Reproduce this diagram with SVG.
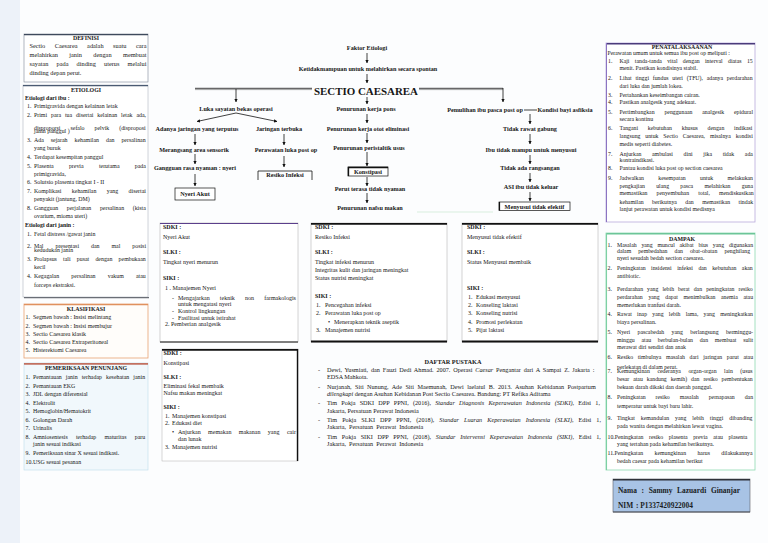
<svg xmlns="http://www.w3.org/2000/svg" width="768" height="543" viewBox="0 0 768 543">
<defs>
<marker id="ah" viewBox="0 0 6 6" refX="5.5" refY="3" markerWidth="3.4" markerHeight="3.4" orient="auto" markerUnits="userSpaceOnUse"><path d="M0,0 L6,3 L0,6 z" fill="#111"/></marker>
<style>
text { font-family: "Liberation Serif", "Times New Roman", serif; fill: #161616; font-size: 6px; }
.b { font-weight: bold; }
.c { text-anchor: middle; }
.i { font-style: italic; }
.f { font-size: 6.2px; font-weight: bold; text-anchor: middle; }
.h { font-size: 5.9px; font-weight: bold; text-anchor: middle; }
.r { font-size: 5.8px; }
.d { font-size: 6.2px; }
.e { font-size: 5.9px; }
.k { font-size: 5.9px; }
.df { font-size: 6.3px; }
.nm { font-size: 7.4px; font-weight: bold; fill: #1a1d24; }
.ar { fill: none; stroke: #111; stroke-width: 0.8; marker-end: url(#ah); }
.ln { fill: none; stroke: #111; stroke-width: 0.8; }
.box { fill: #fff; stroke: #111; stroke-width: 0.7; }
</style>
</defs>
<rect x="0" y="0" width="768" height="543" fill="#fcfdfe"/>
<rect x="0" y="0" width="20" height="543" fill="#edf2f9"/>

<!-- LEFT COLUMN -->
<g id="definisi">
<rect x="24" y="34" width="124" height="48" fill="#fff" stroke="#7d8796" stroke-width="0.6"/>
<line x1="24" y1="34.6" x2="148" y2="34.6" stroke="#3e4a5c" stroke-width="1.4"/>
<text class="h" x="86" y="39.8">DEFINISI</text>
<text class="df" x="29.5" y="48" style="word-spacing:8px">Sectio Caesarea adalah suatu cara</text>
<text class="df" x="29.5" y="57" style="word-spacing:9.9px">melahirkan janin dengan membuat</text>
<text class="df" x="29.5" y="66" style="word-spacing:6.6px">sayatan pada dinding uterus melalui</text>
<text class="df" x="29.5" y="75">dinding depan perut.</text>
</g>

<g id="etiologi">
<rect x="23" y="85" width="125" height="212" fill="#fff" stroke="#a0a8b4" stroke-width="0.5"/>
<line x1="23" y1="85.6" x2="148" y2="85.6" stroke="#4a5a72" stroke-width="1.4"/>
<line x1="24" y1="297.6" x2="149" y2="297.6" stroke="#6a6e76" stroke-width="1.3"/>
<text class="h" x="86" y="91.5">ETIOLOGI</text>
<text class="b e" x="25" y="100">Etiologi dari ibu :</text>
<text class="e" x="27" y="107.5">1.</text><text class="e" x="34" y="107.5">Primigravida dengan kelainan letak</text>
<text class="e" x="27" y="117">2.</text><text class="e" x="34" y="117" style="word-spacing:2.4px">Primi para tua disertai kelainan letak ada,</text>
<text class="e" x="34" y="129.5" style="word-spacing:8.5px">disproporsi sefalo pelvik (disproposi</text>
<text class="e" x="34" y="133">janin panggul )</text>
<text class="e" x="27" y="141.5">3.</text><text class="e" x="34" y="141.5" style="word-spacing:5.5px">Ada sejarah kehamilan dan persalinan</text>
<text class="e" x="34" y="149.5">yang buruk</text>
<text class="e" x="27" y="158.5">4.</text><text class="e" x="34" y="158.5">Terdapat kesempitan panggul</text>
<text class="e" x="27" y="167.5">5.</text><text class="e" x="34" y="167.5" style="word-spacing:13.8px">Plasenta previa terutama pada</text>
<text class="e" x="34" y="176">primigravida,</text>
<text class="e" x="27" y="184">6.</text><text class="e" x="34" y="184">Solutsio plasenta tingkat I - II</text>
<text class="e" x="27" y="193">7.</text><text class="e" x="34" y="193" style="word-spacing:8.9px">Komplikasi kehamilan yang disertai</text>
<text class="e" x="34" y="200.5">penyakit (jantung, DM)</text>
<text class="e" x="27" y="210">8.</text><text class="e" x="34" y="210" style="word-spacing:7.1px">Gangguan perjalanan persalinan (kista</text>
<text class="e" x="34" y="217.5">ovarium, mioma uteri)</text>
<text class="b e" x="25" y="227">Etiologi dari janin :</text>
<text class="e" x="27" y="236">1.</text><text class="e" x="34" y="236">Fetal distress /gawat janin</text>
<text class="e" x="27" y="248">2.</text><text class="e" x="34" y="248" style="word-spacing:10.5px">Mal presentasi dan mal posisi</text>
<text class="e" x="34" y="251.5">kedudukan janin</text>
<text class="e" x="27" y="261">3.</text><text class="e" x="34" y="261" style="word-spacing:4.7px">Prolapsus tali pusat dengan pembukaan</text>
<text class="e" x="34" y="269">kecil</text>
<text class="e" x="27" y="278">4.</text><text class="e" x="34" y="278" style="word-spacing:10.7px">Kegagalan persalinan vakum atau</text>
<text class="e" x="34" y="286.5">forceps ekstraksi.</text>
</g>

<g id="klasifikasi">
<rect x="24" y="304" width="124" height="54" fill="#fffdfa" stroke="#e8a274" stroke-width="0.8"/>
<line x1="24" y1="304.6" x2="148" y2="304.6" stroke="#e0915e" stroke-width="1.4"/>
<text class="h" x="86" y="311">KLASIFIKASI</text>
<text class="k" x="25.5" y="319">1.</text><text class="k" x="33" y="319">Segmen bawah : Insisi melintang</text>
<text class="k" x="25.5" y="327.5">2.</text><text class="k" x="33" y="327.5">Segmen bawah : Insisi membujur</text>
<text class="k" x="25.5" y="335.5">3.</text><text class="k" x="33" y="335.5">Sectio Caesarea klasik</text>
<text class="k" x="25.5" y="344">4.</text><text class="k" x="33" y="344">Sectio Caesarea Extraperitoneal</text>
<text class="k" x="25.5" y="352">5.</text><text class="k" x="33" y="352">Histerektomi Caesarea</text>
</g>

<g id="pemeriksaan">
<rect x="24" y="363" width="124" height="107" fill="#f1f8fc" stroke="#bcdcec" stroke-width="0.6"/>
<line x1="24" y1="363.8" x2="148" y2="363.8" stroke="#c27060" stroke-width="1.7"/>
<text class="h" x="86" y="370">PEMERIKSAAN PENUNJANG</text>
<text class="k" x="25.5" y="379">1.</text><text class="k" x="33" y="379" style="word-spacing:2.6px">Pemantauan janin terhadap kesehatan janin</text>
<text class="k" x="25.5" y="387.5">2.</text><text class="k" x="33" y="387.5">Pemantauan EKG</text>
<text class="k" x="25.5" y="396">3.</text><text class="k" x="33" y="396">JDL dengan diferensial</text>
<text class="k" x="25.5" y="404.5">4.</text><text class="k" x="33" y="404.5">Elektrolit</text>
<text class="k" x="25.5" y="413">5.</text><text class="k" x="33" y="413">Hemoglobin/Hematokrit</text>
<text class="k" x="25.5" y="421.5">6.</text><text class="k" x="33" y="421.5">Golongan Darah</text>
<text class="k" x="25.5" y="430">7.</text><text class="k" x="33" y="430">Urinalis</text>
<text class="k" x="25.5" y="438.5">8.</text><text class="k" x="33" y="438.5" style="word-spacing:6.8px">Amniosentesis terhadap maturitas paru</text>
<text class="k" x="33" y="446">janin sesuai indikasi</text>
<text class="k" x="25.5" y="455">9.</text><text class="k" x="33" y="455">Pemeriksaan sinar X sesuai indikasi.</text>
<text class="k" x="25.5" y="463.5">10.</text><text class="k" x="33" y="463.5">USG sesuai pesanan</text>
</g>

<!-- FLOW -->
<g id="connectors">
<line class="ar" x1="367" y1="53" x2="367" y2="63"/>
<line class="ar" x1="367" y1="74" x2="367" y2="83"/>
<line x1="195" y1="88.3" x2="312" y2="88.3" stroke="#111" stroke-width="0.8"/>
<line x1="195" y1="89.6" x2="312" y2="89.6" stroke="#8a8a8a" stroke-width="0.8"/>
<line class="ar" x1="236" y1="89" x2="236" y2="102"/>
<line x1="419" y1="88.3" x2="503" y2="88.3" stroke="#111" stroke-width="0.8"/>
<line x1="419" y1="89.6" x2="503" y2="89.6" stroke="#8a8a8a" stroke-width="0.8"/>
<line class="ar" x1="503" y1="88" x2="503" y2="102"/>
<line class="ar" x1="367" y1="97" x2="367" y2="104"/>
<line class="ln" x1="524" y1="110" x2="537" y2="110"/>
<line class="ar" x1="236" y1="113" x2="197" y2="121.5"/>
<line class="ar" x1="236" y1="113" x2="277" y2="121.5"/>
<line class="ar" x1="367" y1="114" x2="367" y2="123"/>
<line class="ar" x1="530" y1="114" x2="530" y2="124"/>
<line class="ar" x1="195" y1="134" x2="195" y2="145"/>
<line class="ar" x1="284" y1="134" x2="284" y2="145"/>
<line class="ar" x1="367" y1="133" x2="367" y2="143"/>
<line class="ar" x1="530" y1="134" x2="530" y2="144"/>
<line class="ar" x1="195" y1="154" x2="195" y2="164"/>
<line class="ar" x1="284" y1="156" x2="284" y2="167"/>
<line class="ar" x1="367" y1="152" x2="367" y2="166"/>
<line class="ar" x1="530" y1="155" x2="530" y2="164"/>
<line class="ar" x1="195" y1="174" x2="195" y2="186"/>
<line class="ar" x1="367" y1="177" x2="367" y2="186"/>
<line class="ar" x1="530" y1="173" x2="530" y2="182"/>
<line class="ar" x1="367" y1="193" x2="367" y2="203"/>
<line class="ar" x1="530" y1="192" x2="530" y2="201"/>
<line x1="417" y1="212" x2="493" y2="212" stroke="#bfe6c9" stroke-width="0.6"/>
</g>

<g id="faktor"><text class="f" x="367" y="50">Faktor Etiologi</text></g>
<g id="ketidakmampuan"><text class="f" x="368" y="71">Ketidakmampuan untuk melahirkan secara spontan</text></g>
<g id="sectio"><text class="b c" x="366" y="95" style="font-size:11px" textLength="104" lengthAdjust="spacingAndGlyphs">SECTIO CAESAREA</text></g>
<g id="luka"><text class="f" x="236" y="111">Luka sayatan bekas operasi</text></g>
<g id="pons"><text class="f" x="366" y="111">Penurunan kerja pons</text></g>
<g id="pemulihan"><text class="f" x="485" y="112">Pemulihan ibu pasca post op</text></g>
<g id="kondisi"><text class="f" x="565" y="112">Kondisi bayi asfiksia</text></g>
<g id="jaringan-putus"><text class="f" x="197" y="131">Adanya jaringan yang terputus</text></g>
<g id="jaringan-buka"><text class="f" x="279" y="131">Jaringan terbuka</text></g>
<g id="otot"><text class="f" x="368" y="131">Penurunan kerja otot eliminasi</text></g>
<g id="rawat"><text class="f" x="530" y="131">Tidak rawat gabung</text></g>
<g id="sensorik"><text class="f" x="194" y="152">Merangsang area sensorik</text></g>
<g id="perawatan"><text class="f" x="286" y="152">Perawatan luka post op</text></g>
<g id="peristaltik"><text class="f" x="369" y="150">Penurunan peristaltik usus</text></g>
<g id="mampu"><text class="f" x="531" y="152">Ibu tidak mampu untuk menyusui</text></g>
<g id="gangguan"><text class="f" x="195" y="170">Gangguan rasa nyaman : nyeri</text></g>
<g id="resiko">
<path d="M258,180 V171 H312 V180" fill="none" stroke="#111" stroke-width="0.8"/>
<text class="f" x="285" y="177">Resiko Infeksi</text>
</g>
<g id="konstipasi">
<rect class="box" x="348" y="167" width="40" height="9"/>
<path d="M348.5,176 V167.5 H388" fill="none" stroke="#111" stroke-width="1.3"/>
<text class="f" x="368" y="174">Konstipasi</text>
</g>
<g id="rangsangan"><text class="f" x="530" y="170">Tidak ada rangsangan</text></g>
<g id="nyeri">
<rect class="box" x="175" y="188" width="40" height="12"/>
<text class="f" x="195" y="196">Nyeri Akut</text>
</g>
<g id="perut"><text class="f" x="370" y="191">Perut terasa tidak nyaman</text></g>
<g id="asi"><text class="f" x="531" y="189">ASI ibu tidak keluar</text></g>
<g id="nafsu"><text class="f" x="370" y="210">Penurunan nafsu makan</text></g>
<g id="menyusui">
<rect class="box" x="499" y="202" width="71" height="8.5"/>
<line x1="499.5" y1="202" x2="499.5" y2="210.5" stroke="#111" stroke-width="1.2"/>
<text class="f" x="534.5" y="208.5">Menyusui tidak efektif</text>
</g>

<!-- SDKI BOXES -->
<g id="sdki-nyeri">
<rect x="160" y="223" width="138" height="119" fill="#fff" stroke="#a8a8a8" stroke-width="0.5"/>
<line x1="160" y1="223.5" x2="298" y2="223.5" stroke="#5b3f8c" stroke-width="1.2"/>
<line x1="160" y1="342" x2="298" y2="342" stroke="#5a5a5a" stroke-width="1.6"/>
<text class="b" x="163" y="229">SDKI :</text>
<text x="163" y="239">Nyeri Akut</text>
<text class="b" x="163" y="254">SLKI :</text>
<text x="163" y="264">Tingkat nyeri menurun</text>
<text class="b" x="163" y="280">SIKI :</text>
<text x="165" y="290">1 .  Manajemen Nyeri</text>
<text x="172" y="300">-</text><text x="178" y="300" style="word-spacing:8.7px">Mengajarkan teknik non farmakologis</text>
<text x="178" y="306">untuk mengatasi nyeri</text>
<text x="172" y="313">-</text><text x="178" y="313">Kontrol lingkungan</text>
<text x="172" y="320">-</text><text x="178" y="320">Fasilitasi untuk istirahat</text>
<text x="165" y="326">2.  Pemberian analgesik</text>
</g>
<g id="sdki-infeksi">
<rect x="311" y="223" width="136" height="119" fill="#fff" stroke="#a8a8a8" stroke-width="0.5"/>
<line x1="311" y1="223.8" x2="447" y2="223.8" stroke="#111" stroke-width="1.8"/>
<line x1="311" y1="341.5" x2="447" y2="341.5" stroke="#111" stroke-width="1.8"/>
<text class="b" x="315" y="229">SDKI :</text>
<text x="315" y="239">Resiko Infeksi</text>
<text class="b" x="315" y="254">SLKI :</text>
<text x="315" y="264">Tingkat infeksi menurun</text>
<text x="315" y="272">Integritas kulit dan jaringan meningkat</text>
<text x="315" y="280">Status nutrisi meningkat</text>
<text class="b" x="315" y="298">SIKI :</text>
<text x="316" y="307">1.</text><text x="325" y="307">Pencegahan infeksi</text>
<text x="316" y="315">2.</text><text x="325" y="315">Perawatan luka post op</text>
<text x="328" y="324">•</text><text x="334" y="324">Menerapkan teknik aseptik</text>
<text x="316" y="332">3.</text><text x="325" y="332">Manajemen nutrisi</text>
</g>
<g id="sdki-menyusui">
<rect x="462" y="223" width="136" height="119" fill="#fff" stroke="#a8a8a8" stroke-width="0.5"/>
<line x1="462" y1="223.8" x2="598" y2="223.8" stroke="#111" stroke-width="1.8"/>
<line x1="462" y1="341.5" x2="598" y2="341.5" stroke="#111" stroke-width="1.8"/>
<text class="b" x="467" y="229">SDKI :</text>
<text x="467" y="239">Menyusui tidak efektif</text>
<text class="b" x="467" y="254">SLKI :</text>
<text x="467" y="264">Status Menyusui membaik</text>
<text class="b" x="467" y="290">SIKI :</text>
<text x="468" y="299">1.</text><text x="476" y="299">Edukasi menyusui</text>
<text x="468" y="307">2.</text><text x="476" y="307">Konseling laktasi</text>
<text x="468" y="315">3.</text><text x="476" y="315">Konseling nutrisi</text>
<text x="468" y="324">4.</text><text x="476" y="324">Promosi perlekatan</text>
<text x="468" y="332">5.</text><text x="476" y="332">Pijat laktasi</text>
</g>
<g id="sdki-konstipasi">
<rect x="162" y="349" width="136" height="112" fill="#fff" stroke="#b0b0b0" stroke-width="0.5"/>
<line x1="162" y1="349.8" x2="298" y2="349.8" stroke="#111" stroke-width="1.8"/>
<line x1="297.5" y1="349" x2="297.5" y2="461" stroke="#111" stroke-width="1.4"/>
<text class="b" x="163.5" y="355">SDKI :</text>
<text x="163.5" y="365">Konstipasi</text>
<text class="b" x="163.5" y="379">SLKI :</text>
<text x="163.5" y="388">Eliminasi fekal membaik</text>
<text x="163.5" y="395">Nafsu makan meningkat</text>
<text class="b" x="163.5" y="409">SIKI :</text>
<text x="165" y="418">1.</text><text x="172" y="418">Manajemen konstipasi</text>
<text x="165" y="425">2.</text><text x="172" y="425">Edukasi diet</text>
<text x="172" y="434">•</text><text x="178" y="434" style="word-spacing:5.9px">Anjurkan memakan makanan yang cair</text>
<text x="178" y="441">dan lunak</text>
<text x="165" y="449">3.</text><text x="172" y="449">Manajemen nutrisi</text>
</g>

<g id="daftar-pustaka">
<text class="h" x="453" y="364" style="font-size:6.3px">DAFTAR PUSTAKA</text>
<text class="d" x="318" y="372">-</text>
<text class="d" x="327" y="372" style="word-spacing:1.3px">Dewi, Yusmiati, dan Fauzi Dedi Ahmad. 2007. Operasi <tspan class="i">Caesar</tspan> Pengantar dari A Sampai Z. Jakarta :</text>
<text class="d" x="327" y="379">EDSA Mahkota.</text>
<text class="d" x="318" y="389">-</text>
<text class="d" x="327" y="389" style="word-spacing:1.9px">Nurjanah, Siti Nunung, Ade Siti Maemunah, Dewi laelatul B. 2013. Asuhan Kebidanan Postpartum</text>
<text class="d" x="327" y="396"><tspan class="i">dilengkapi</tspan> dengan Asuhan Kebidanan Post Sectio Caesarea. Bandung: PT Refika Aditama</text>
<text class="d" x="318" y="405">-</text>
<text class="d" x="327" y="405" style="word-spacing:2.7px">Tim Pokja SDKI DPP PPNI, (2016), <tspan class="i">Standar Diagnosis Keperawatan Indonesia (SDKI)</tspan>, Edisi 1,</text>
<text class="d" x="327" y="413">Jakarta, Persatuan Perawat Indonesia</text>
<text class="d" x="318" y="422">-</text>
<text class="d" x="327" y="422" style="word-spacing:3.5px">Tim Pokja SLKI DPP PPNI, (2018), <tspan class="i">Standar Luaran Keperawatan Indonesia (SLKI)</tspan>, Edisi 1,</text>
<text class="d" x="327" y="429" style="word-spacing:1.5px">Jakarta, Persatuan Perawat Indonesia</text>
<text class="d" x="318" y="439">-</text>
<text class="d" x="327" y="439" style="word-spacing:3.2px">Tim Pokja SIKI DPP PPNI, (2018), <tspan class="i">Standar Intervensi Keperawatan Indonesia (SIKI)</tspan>, Edisi 1,</text>
<text class="d" x="327" y="446" style="word-spacing:1.5px">Jakarta, Persatuan Perawat Indonesia</text>
</g>

<!-- RIGHT COLUMN -->
<g id="penatalaksanaan">
<rect x="606" y="43" width="149" height="179" fill="#fff" stroke="#baaadc" stroke-width="0.8"/>
<line x1="606" y1="43.7" x2="755" y2="43.7" stroke="#4b3b7c" stroke-width="1.4"/>
<line x1="606.5" y1="43" x2="606.5" y2="222" stroke="#8c74c2" stroke-width="1"/>
<text class="h" x="682" y="48.5">PENATALAKSAANAN</text>
<text class="r" x="607.5" y="54.5">Perawatan umum untuk semua ibu post op meliputi :</text>
<text class="r" x="608" y="62.5">1.</text><text class="r" x="619.5" y="62.5" style="word-spacing:3.9px">Kaji tanda-tanda vital dengan interval diatas 15</text>
<text class="r" x="619.5" y="70">menit. Pastikan kondisinya stabil.</text>
<text class="r" x="608" y="79.5">2.</text><text class="r" x="619.5" y="79.5" style="word-spacing:2.3px">Lihat tinggi fundus uteri (TFU), adanya perdarahan</text>
<text class="r" x="619.5" y="87.5">dari luka dan jumlah lokea.</text>
<text class="r" x="608" y="97">3.</text><text class="r" x="619.5" y="97">Pertahankan keseimbangan cairan.</text>
<text class="r" x="608" y="104">4.</text><text class="r" x="619.5" y="104">Pastikan analgesik yang adekuat.</text>
<text class="r" x="608" y="113.5">5.</text><text class="r" x="619.5" y="113.5" style="word-spacing:8.4px">Pertimbangkan penggunaan analgesik epidural</text>
<text class="r" x="619.5" y="120.5">secara kontinu</text>
<text class="r" x="608" y="130">6.</text><text class="r" x="619.5" y="130" style="word-spacing:8.3px">Tangani kebutuhan khusus dengan indikasi</text>
<text class="r" x="619.5" y="138" style="word-spacing:3.4px">langsung untuk Sectio Caesarea, misalnya kondisi</text>
<text class="r" x="619.5" y="145.5">medis seperti diabetes.</text>
<text class="r" x="608" y="156">7.</text><text class="r" x="619.5" y="156" style="word-spacing:9.2px">Anjurkan ambulasi dini jika tidak ada</text>
<text class="r" x="619.5" y="161.5">kontraindikasi.</text>
<text class="r" x="608" y="170">8.</text><text class="r" x="619.5" y="170">Pantau kondisi luka post op section caesarea</text>
<text class="r" x="608" y="179.5">9.</text><text class="r" x="619.5" y="179.5" style="word-spacing:12.9px">Jadwalkan kesempatan untuk melakukan</text>
<text class="r" x="619.5" y="187.5" style="word-spacing:9.8px">pengkajian ulang pasca melahirkan guna</text>
<text class="r" x="619.5" y="195" style="word-spacing:7.6px">memastikan penyembuhan total, mendiskusikan</text>
<text class="r" x="619.5" y="203.5" style="word-spacing:7px">kehamilan berikutnya dan memastikan tindak</text>
<text class="r" x="619.5" y="211">lanjut perawatan untuk kondisi medisnya</text>
</g>

<g id="dampak">
<rect x="606" y="233" width="149" height="237" fill="#fff" stroke="#90d9b2" stroke-width="0.8"/>
<line x1="606" y1="233.7" x2="755" y2="233.7" stroke="#6cc598" stroke-width="1.4"/>
<line x1="606.5" y1="233" x2="606.5" y2="470" stroke="#7dd0a4" stroke-width="1.1"/>
<text class="h" x="682" y="241">DAMPAK</text>
<text class="r" x="607.5" y="247">1.</text><text class="r" x="617" y="247" style="word-spacing:3.3px">Masalah yang muncul akibat bius yang digunakan</text>
<text class="r" x="617" y="253" style="word-spacing:5.6px">dalam pembedahan dan obat-obatan penghilang</text>
<text class="r" x="617" y="260">nyeri sesudah bedah section caesarea.</text>
<text class="r" x="607.5" y="270">2.</text><text class="r" x="617" y="270" style="word-spacing:4px">Peningkatan insidensi infeksi dan kebutuhan akan</text>
<text class="r" x="617" y="278">antibiotic.</text>
<text class="r" x="607.5" y="291">3.</text><text class="r" x="617" y="291" style="word-spacing:2.6px">Perdarahan yang lebih berat dan peningkatan resiko</text>
<text class="r" x="617" y="299" style="word-spacing:4.2px">perdarahan yang dapat menimbulkan anemia atau</text>
<text class="r" x="617" y="307">memerlukan tranfusi darah.</text>
<text class="r" x="607.5" y="316">4.</text><text class="r" x="617" y="316" style="word-spacing:3.8px">Rawat inap yang lebih lama, yang meningkatkan</text>
<text class="r" x="617" y="324">biaya persalinan.</text>
<text class="r" x="607.5" y="334">5.</text><text class="r" x="617" y="334" style="word-spacing:5.9px">Nyeri pascabedah yang berlangsung berminggu-</text>
<text class="r" x="617" y="342" style="word-spacing:5.3px">minggu atau berbulan-bulan dan membuat sulit</text>
<text class="r" x="617" y="349">merawat diri sendiri dan anak</text>
<text class="r" x="607.5" y="359">6.</text><text class="r" x="617" y="359" style="word-spacing:3.2px">Resiko timbulnya masalah dari jaringan parut atau</text>
<text class="r" x="617" y="369">perlekatan di dalam perut.</text>
<text class="r" x="607.5" y="373">7.</text><text class="r" x="617" y="373" style="word-spacing:6.1px">Kemungkinan cederanya organ-organ lain (usus</text>
<text class="r" x="617" y="381" style="word-spacing:2.5px">besar atau kandung kemih) dan resiko pembentukan</text>
<text class="r" x="617" y="389">bekuan darah dikaki dan daerah panggul.</text>
<text class="r" x="607.5" y="399">8.</text><text class="r" x="617" y="399" style="word-spacing:8.5px">Peningkatan resiko masalah pernapasan dan</text>
<text class="r" x="617" y="407.5">temperatur untuk bayi baru lahir.</text>
<text class="r" x="607.5" y="420">9.</text><text class="r" x="617" y="420" style="word-spacing:4.5px">Tingkat kemandulan yang lebih tinggi dibanding</text>
<text class="r" x="617" y="428">pada wanita dengan melahirkan lewat vagina.</text>
<text class="r" x="607.5" y="438.5" style="word-spacing:4.1px">10.Peningkatan resiko plasenta previa atau plasenta</text>
<text class="r" x="617" y="446">yang tertahan pada kehamilan berikutnya.</text>
<text class="r" x="607.5" y="455" style="word-spacing:9.9px">11.Peningkatan kemungkinan harus dilakukannya</text>
<text class="r" x="617" y="463">bedah caesar pada kehamilan berikut</text>
</g>

<g id="identitas">
<rect x="613" y="479" width="137" height="33" fill="#a8c3e5" stroke="#5a5e66" stroke-width="0.6"/>
<line x1="613" y1="479.7" x2="750" y2="479.7" stroke="#2e3138" stroke-width="1.4"/>
<line x1="613" y1="512" x2="750" y2="512" stroke="#4a4e56" stroke-width="1"/>
<text class="nm" x="618" y="493" style="word-spacing:2.8px">Nama : Sammy Lazuardi Ginanjar</text>
<text class="nm" x="618" y="507.5">NIM</text>
<text class="nm" x="636" y="507.5">: P1337420922004</text>
</g>
</svg>
